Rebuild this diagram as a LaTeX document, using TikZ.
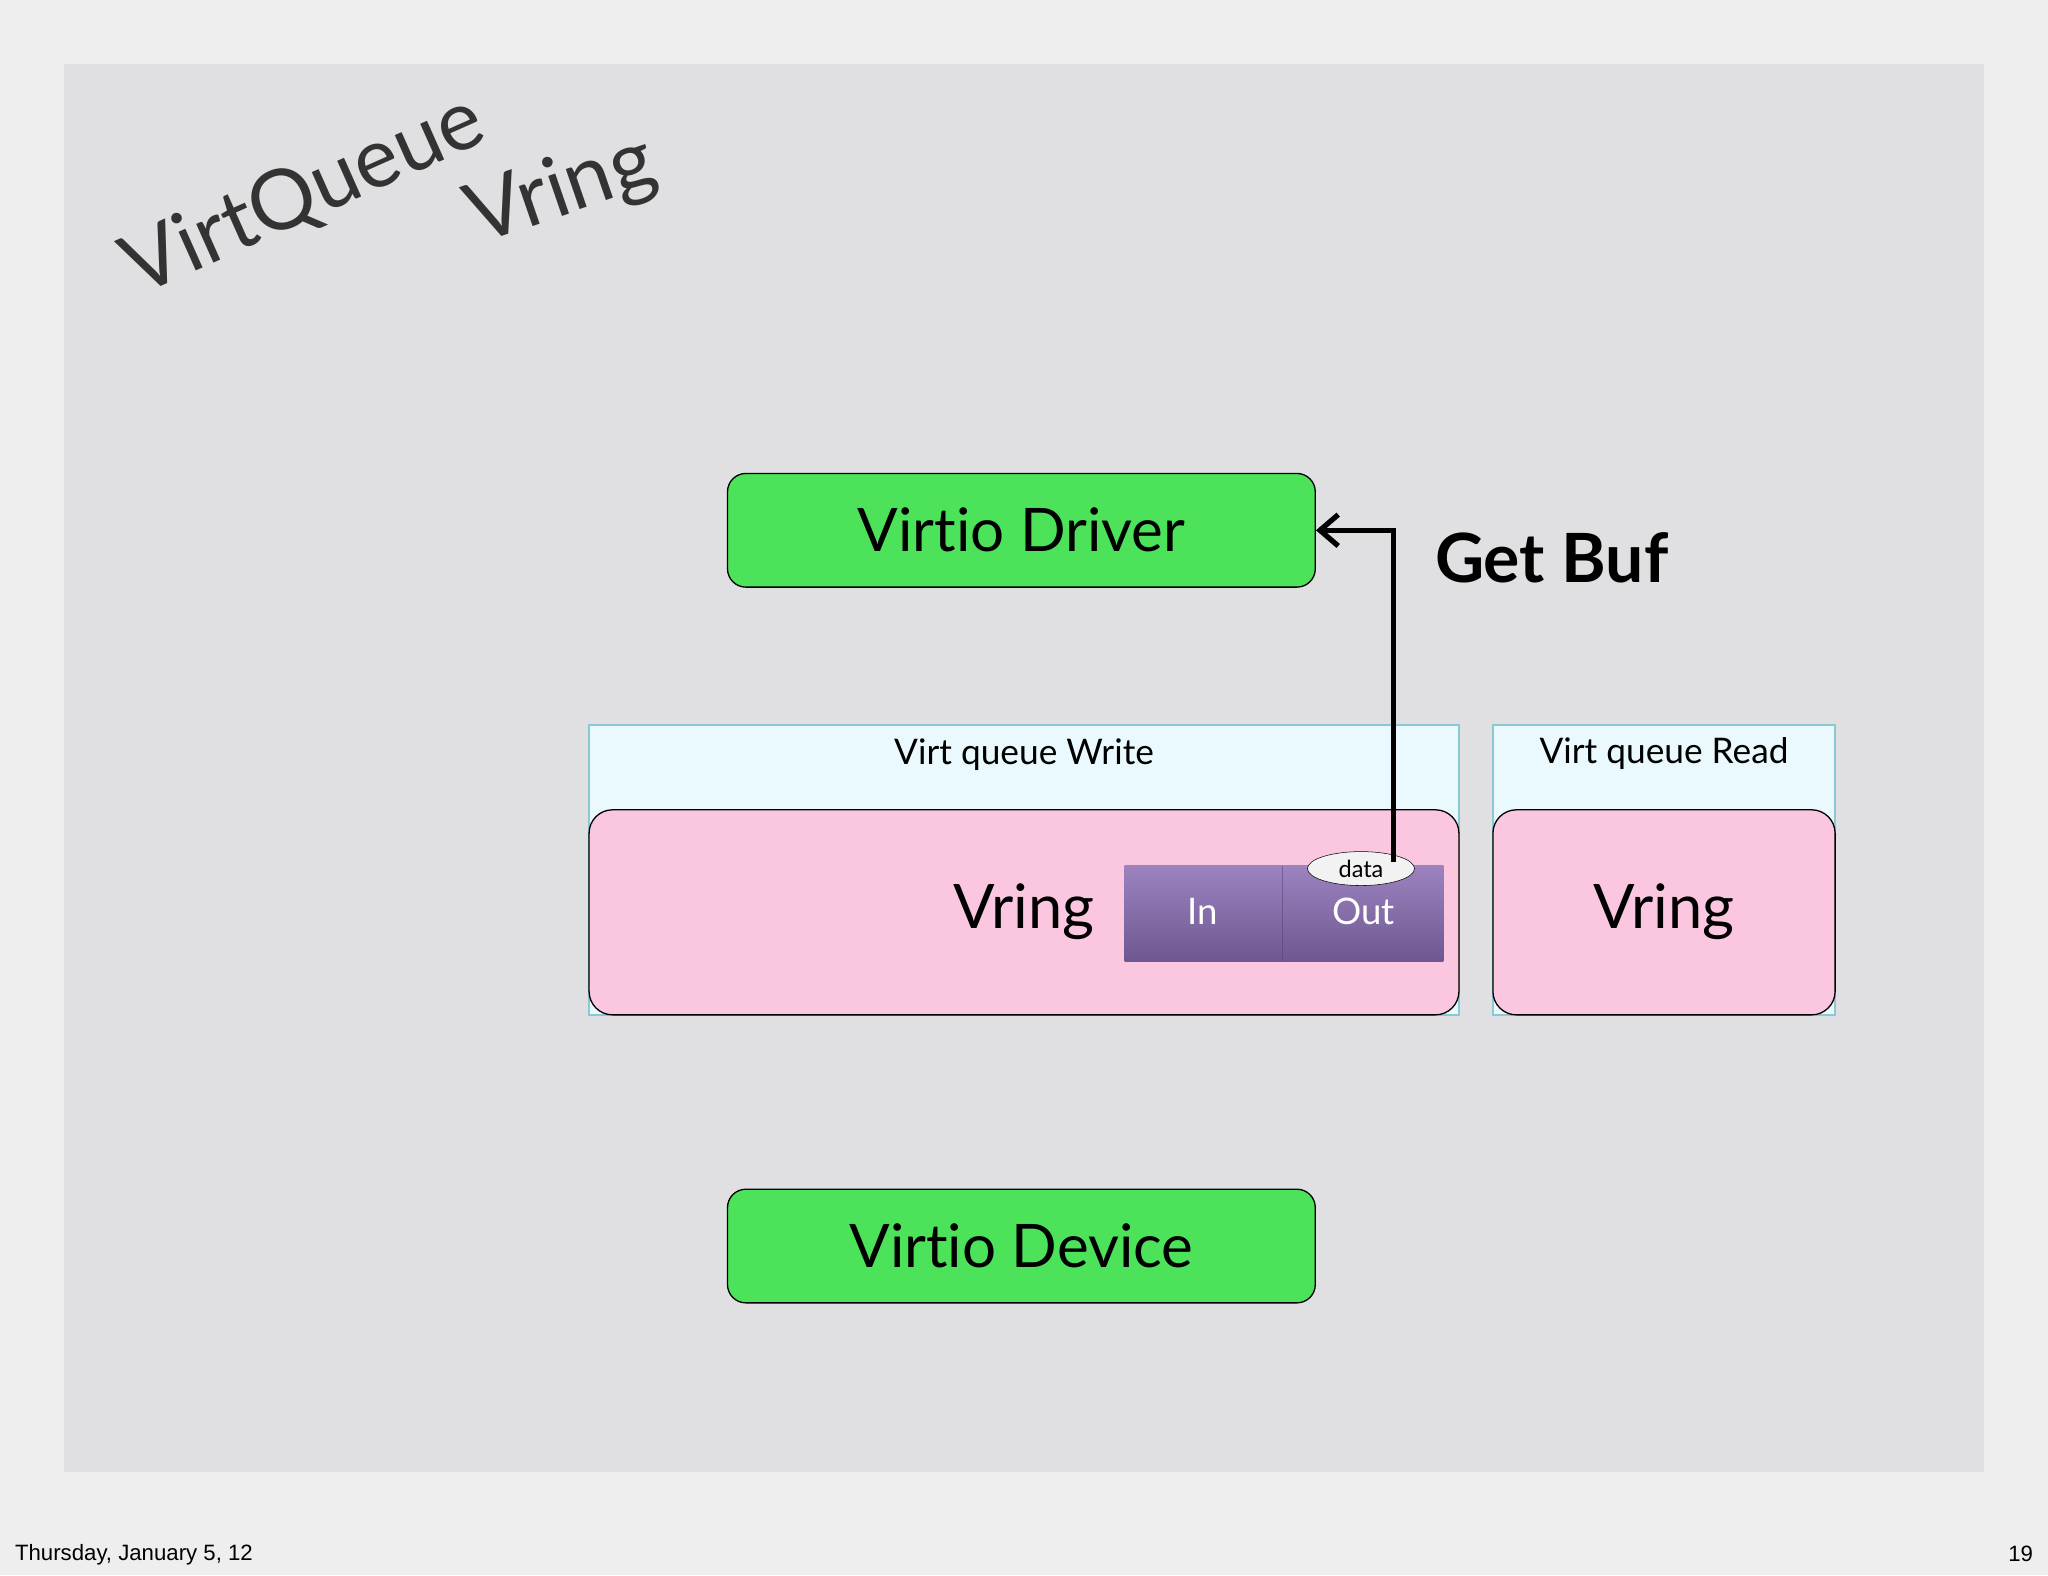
\documentclass[tikz,border=0pt]{standalone}
\usepackage{fontspec}
\setmainfont{Lato}[Ligatures={NoCommon,NoRare}]
\newfontfamily\footfont{Liberation Sans}
\usetikzlibrary{shapes.geometric,arrows.meta}
\definecolor{pagebg}{HTML}{EEEEEE}
\definecolor{slidebg}{HTML}{E0DFE2}
\definecolor{grn}{HTML}{4CE35A}
\definecolor{cyanbg}{HTML}{E9F9FD}
\definecolor{cyanbd}{HTML}{8CC8D0}
\definecolor{pinkbg}{HTML}{FBC6E0}
\definecolor{purp}{HTML}{8A6DB5}
\definecolor{txt}{HTML}{333333}
\tikzset{
 fs/.style={font=\fontsize{#1}{#1}\selectfont},
 greenbox/.style={draw=black,line width=1pt,fill=grn,rounded corners=14pt,minimum width=450pt,minimum height=87pt,fs=46,inner sep=0pt},
 qbox/.style={draw=cyanbd,line width=1pt,fill=cyanbg,inner sep=0pt},
 vring/.style={draw=black,line width=1pt,fill=pinkbg,rounded corners=18pt,inner sep=0pt},
}
\begin{document}
\begin{tikzpicture}[x=1pt,y=-1pt]
\fill[pagebg] (0,0) rectangle (1568,1206);
\useasboundingbox (0,0) rectangle (1568,1206);
\fill[slidebg] (49,49) rectangle (1519,1127);
\node[fs=64,text=txt,rotate=24] (t1) at (233,150) {VirtQueue};
\node[fs=64,text=txt,rotate=19] (t2) at (430,147) {Vring};
\node[greenbox] (drv) at (782,406) {Virtio Driver};
\node[greenbox] (dev) at (782,954) {Virtio Device};
% write queue
\node[qbox,minimum width=666pt,minimum height=222pt] (qw) at (784,666) {};
\node[fs=27] (qwl) at (784,578) {Virt queue Write};
\node[vring,minimum width=666pt,minimum height=157pt] (vw) at (784,698.5) {};
\node[fs=47] (vwl) at (784,698) {Vring};
\shade[top color=purp!85!white,bottom color=purp!80!black] (861,663) rectangle (1105,736);
\draw[purp!60!black,opacity=0.5] (982,663) -- (982,736);
\node[fs=28,text=white] (in) at (921,698) {In};
\node[fs=28,text=white] (out) at (1044,698) {Out};
\node[ellipse,draw=black,fill=gray!10,minimum width=82pt,minimum height=26pt,inner sep=0pt,fs=18] (data) at (1042,665) {data};
% read queue
\node[qbox,minimum width=262pt,minimum height=222pt] (qr) at (1274,666) {};
\node[fs=27] (qrl) at (1274,577) {Virt queue Read};
\node[vring,minimum width=262pt,minimum height=157pt] (vr) at (1274,698.5) {};
\node[fs=47] (vrl) at (1274,698) {Vring};
% arrow
\coordinate (src) at (1067,660);
\draw[line width=4pt,-{Straight Barb[length=14pt,width=24pt,line width=4pt]}] (src) |- (drv.east);
\node[font=\bfseries\fontsize{52}{52}\selectfont] (gb) at (1188,427) {Get Buf};
\node[font=\footfont\fontsize{17}{17}\selectfont,anchor=west] (f1) at (8,1190) {Thursday, January 5, 12};
\node[font=\footfont\fontsize{17}{17}\selectfont,anchor=east] (f2) at (1560,1190) {19};
\end{tikzpicture}
\end{document}
